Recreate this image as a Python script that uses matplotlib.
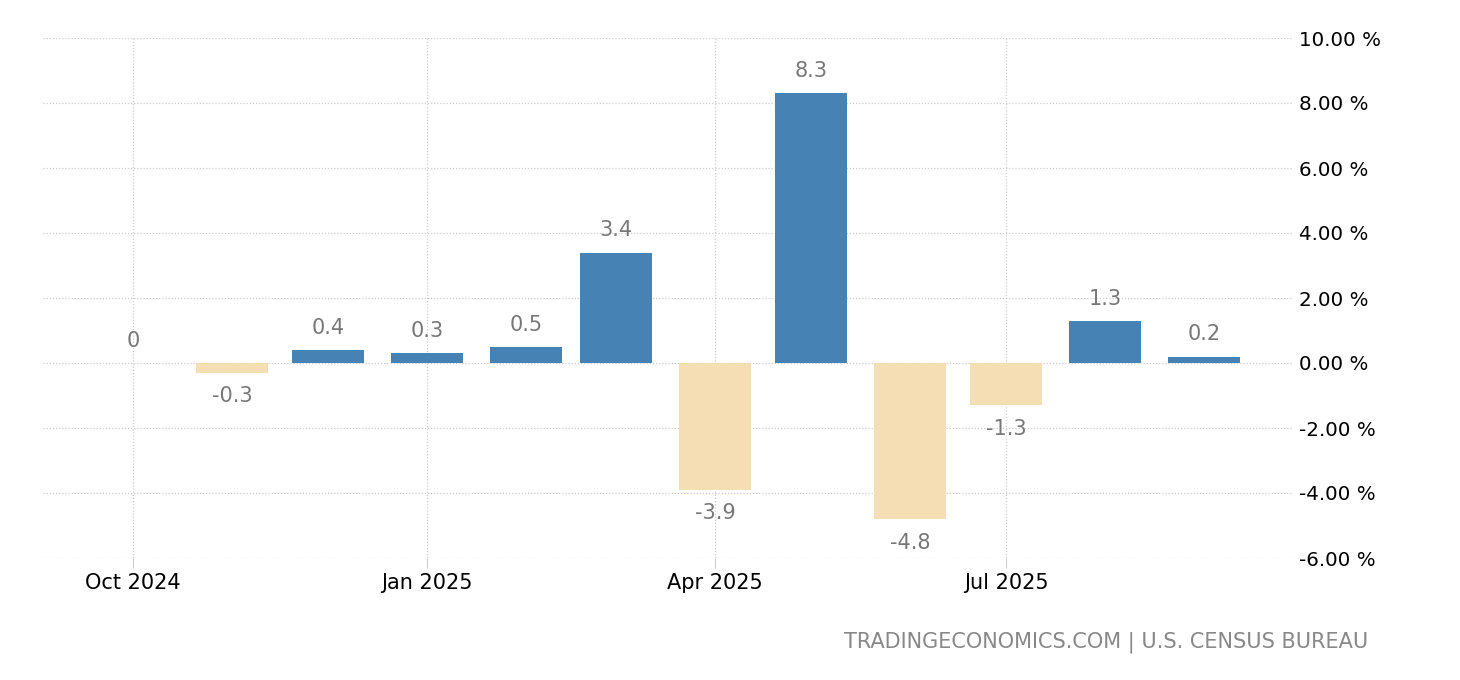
import matplotlib
matplotlib.use("Agg")
import matplotlib.pyplot as plt
import matplotlib.dates as mdates
from matplotlib.ticker import FixedLocator
import datetime as dt

months = ["2024-10", "2024-11", "2024-12", "2025-01", "2025-02", "2025-03",
          "2025-04", "2025-05", "2025-06", "2025-07", "2025-08", "2025-09"]
values = [0.0, -0.3, 0.4, 0.3, 0.5, 3.4, -3.9, 8.3, -4.8, -1.3, 1.3, 0.2]
labels = ["0", "-0.3", "0.4", "0.3", "0.5", "3.4", "-3.9", "8.3", "-4.8", "-1.3", "1.3", "0.2"]
xtick_dates = ["2024-10", "2025-01", "2025-04", "2025-07"]
xtick_labels = ["Oct 2024", "Jan 2025", "Apr 2025", "Jul 2025"]
yticks = [-6, -4, -2, 0, 2, 4, 6, 8, 10]
source = "TRADINGECONOMICS.COM | U.S. CENSUS BUREAU"

plt.rcParams['font.family'] = ['DejaVu Sans']

def d(s):
    y, m = s.split("-")
    return dt.date(int(y), int(m), 1)

xs = [mdates.date2num(d(m)) for m in months]

fig = plt.figure(figsize=(14.6, 6.8), dpi=100)
L, R, T, B = 43, 1292, 38, 558
ax = fig.add_axes([L / 1460, 1 - B / 680, (R - L) / 1460, (B - T) / 680])

colors = ["#4682B4" if v >= 0 else "#F5DEB3" for v in values]
ax.bar(xs, values, width=22.5, color=colors, zorder=3)

for x, v, lab in zip(xs, values, labels):
    if v >= 0:
        ax.annotate(lab, (x, v), xytext=(0, 16), textcoords="offset points",
                    ha="center", va="center", color="#777777", fontsize=15)
    else:
        ax.annotate(lab, (x, v), xytext=(0, -17), textcoords="offset points",
                    ha="center", va="center", color="#777777", fontsize=15)

x0 = mdates.date2num(dt.date(2024, 10, 1))
ax.set_xlim(x0 - 28.1, x0 + 362.4)
ax.set_ylim(-6, 10)

ax.xaxis.set_major_locator(FixedLocator([mdates.date2num(d(s)) for s in xtick_dates]))
ax.set_xticklabels(xtick_labels, fontsize=15, color="black")
ax.set_yticks(yticks)
ax.set_yticklabels([f"{v:.2f} %" for v in yticks], fontsize=14.3, color="black")
ax.yaxis.tick_right()
ax.tick_params(axis="y", length=0, pad=5)
ax.tick_params(axis="x", length=7, color="#cccccc", pad=4)

ax.grid(True, linestyle=(0, (1, 1.5)), color="#cccccc", linewidth=0.9, zorder=0)
for s in ax.spines.values():
    s.set_visible(False)

fig.text(1368 / 1460, 1 - 642 / 680, source, ha="right", va="center",
         color="#888888", fontsize=15)

fig.savefig("out.png", dpi=100)
